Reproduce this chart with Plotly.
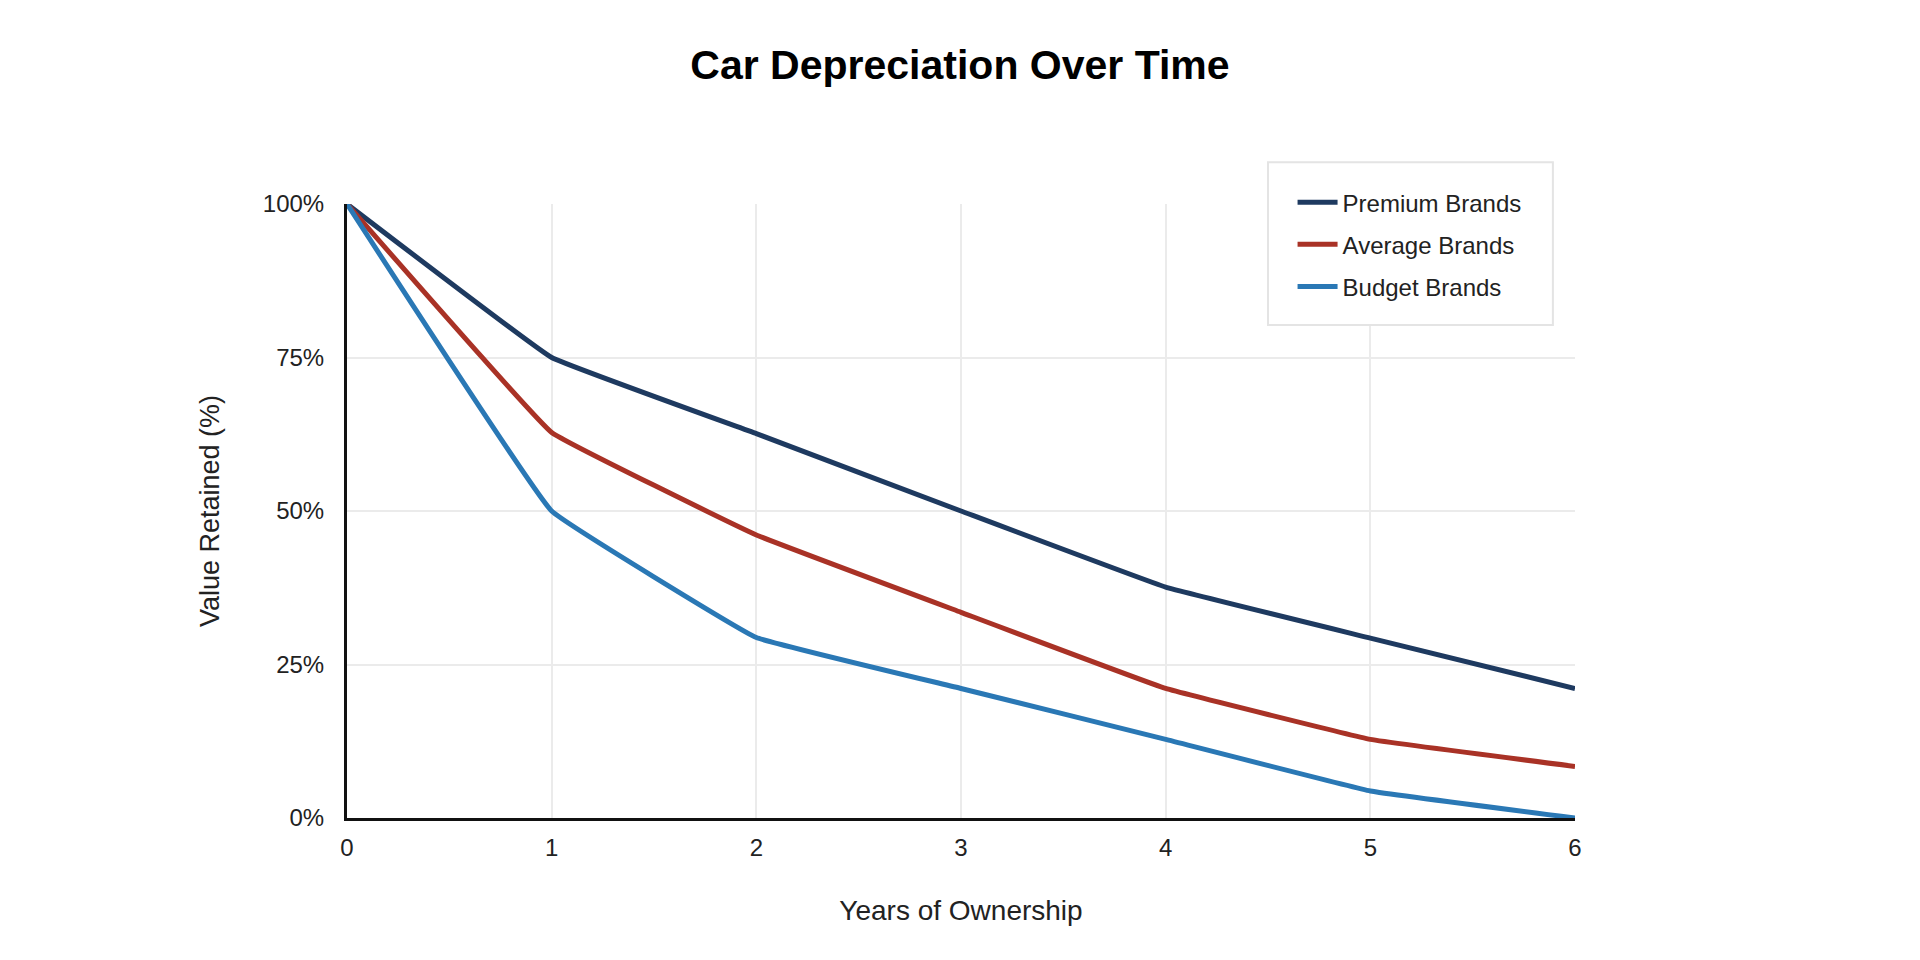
import plotly.graph_objects as go

years = [0, 1, 2, 3, 4, 5, 6]
premium = [100, 75, 62.6, 50, 37.6, 29.3, 21.1]
average = [100, 62.8, 46.1, 33.5, 21.1, 12.8, 8.4]
budget = [100, 50, 29.4, 21.1, 12.8, 4.4, 0]

series_names = ["Premium Brands", "Average Brands", "Budget Brands"]
series_values = [premium, average, budget]
series_colors = ["#1e3a60", "#a93226", "#2a78b5"]

y_ticks = [0, 25, 50, 75, 100]
y_tick_labels = ["0%", "25%", "50%", "75%", "100%"]

FONT = "Liberation Sans, Arial, Helvetica, sans-serif"

fig = go.Figure()
for name, vals, col in zip(series_names, series_values, series_colors):
    fig.add_trace(go.Scatter(
        x=years, y=vals, name=name, mode="lines", legendgroup=name,
        line=dict(color=col, width=5, shape="spline", smoothing=0.2),
    ))

fig.update_layout(
    width=1920, height=960,
    paper_bgcolor="white", plot_bgcolor="white",
    margin=dict(l=339, r=353, t=196, b=150, autoexpand=False),
    font=dict(family=FONT, color="#222222", size=24),
    title=dict(text="<b>Car Depreciation Over Time</b>", x=0.5 - 8 / 1920, xanchor="center",
               y=1 - 57 / 960, yanchor="middle",
               font=dict(family=FONT, size=41, color="#000000")),
    legend=dict(x=0.770, xanchor="left", y=1.039, yanchor="top",
                bgcolor="rgba(0,0,0,0)", borderwidth=0,
                traceorder="grouped", tracegroupgap=8,
                font=dict(family=FONT, size=24, color="#222222"),
                itemwidth=40),
    showlegend=True,
    shapes=[dict(type="rect", xref="paper", yref="paper",
                 x0=0.750, x1=0.982, y0=0.803, y1=1.068,
                 line=dict(color="#e4e4e4", width=2), fillcolor="white",
                 layer="above")],
)

fig.update_xaxes(
    range=[0, 6], tickmode="array", tickvals=years, ticktext=[str(v) for v in years],
    showgrid=True, gridcolor="#ebebeb", gridwidth=2,
    showline=True, linecolor="#111111", linewidth=3, zeroline=False,
    ticks="", ticklabelstandoff=6,
    tickfont=dict(family=FONT, size=24, color="#222222"),
    title=dict(text="Years of Ownership", standoff=41,
               font=dict(family=FONT, size=28, color="#222222")),
)
fig.update_yaxes(
    range=[0, 100], tickmode="array", tickvals=y_ticks, ticktext=y_tick_labels,
    showgrid=True, gridcolor="#ebebeb", gridwidth=2,
    showline=True, linecolor="#111111", linewidth=3, zeroline=False,
    ticks="", ticklabelstandoff=15,
    tickfont=dict(family=FONT, size=24, color="#222222"),
    title=dict(text="Value Retained (%)", standoff=36,
               font=dict(family=FONT, size=27, color="#222222")),
)

fig.write_html("out.html")
